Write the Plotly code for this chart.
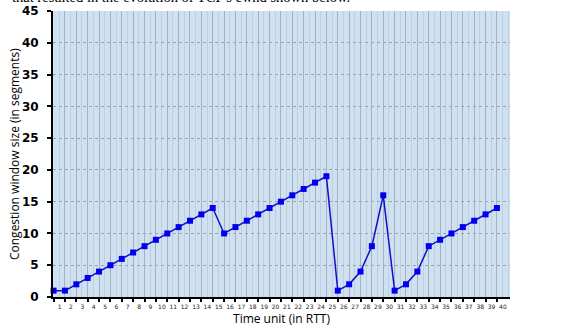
import plotly.graph_objects as go

time_units = list(range(1, 41))
cwnd = [1, 1, 2, 3, 4, 5, 6, 7, 8, 9, 10, 11, 12, 13, 14,
        10, 11, 12, 13, 14, 15, 16, 17, 18, 19,
        1, 2, 4, 8, 16,
        1, 2, 4, 8, 9, 10, 11, 12, 13, 14]
y_ticks = [0, 5, 10, 15, 20, 25, 30, 35, 40, 45]

fig = go.Figure()
fig.add_trace(go.Scatter(
    x=time_units, y=cwnd, mode="lines+markers",
    line=dict(color="#1010c8", width=1.5),
    marker=dict(symbol="square", size=6, color="#0000ee"),
    showlegend=False, cliponaxis=False,
))

fig.update_layout(
    width=571, height=331,
    margin=dict(l=53, r=61, t=11, b=34),
    paper_bgcolor="white",
    plot_bgcolor="#cfe0f1",
    font=dict(family="Open Sans, Liberation Sans, sans-serif", color="black"),
    xaxis=dict(
        range=[0.95, 41.15],
        automargin=False,
        tickmode="array", tickvals=time_units,
        ticktext=[str(t) for t in time_units],
        tickfont=dict(size=6, family="DejaVu Sans", color="#222"),
        ticks="outside", ticklen=3, tickwidth=2, tickcolor="black",
        ticklabelshift=6, ticklabelstandoff=0,
        showline=True, linecolor="black", linewidth=2,
        showgrid=True, gridcolor="#a3b1c0", gridwidth=1,
        minor=dict(dtick=0.5, showgrid=True, gridcolor="#c0cfdf", gridwidth=1, ticks=""),
        zeroline=False,
        title=dict(text="Time unit (in RTT)", font=dict(size=12, family="Open Sans"), standoff=4),
    ),
    yaxis=dict(
        range=[0, 45],
        automargin=False,
        tickmode="array", tickvals=y_ticks,
        tickfont=dict(size=12, family="DejaVu Sans", weight="bold"),
        ticks="outside", ticklen=4, tickwidth=2, tickcolor="black",
        ticklabelstandoff=6,
        showline=True, linecolor="black", linewidth=2,
        showgrid=True, gridcolor="#9aa5b0", griddash="dot", gridwidth=1,
        zeroline=False,
    ),
)

fig.add_annotation(
    text="Congestion window size (in segments)",
    xref="paper", yref="paper", x=-0.0853, y=0.5,
    xanchor="center", yanchor="middle", textangle=-90,
    showarrow=False,
    font=dict(size=12, family="Open Sans", color="black"),
)

fig.add_annotation(
    text="that resulted in the evolution of TCP's cwnd shown below.",
    xref="paper", yref="paper", x=-0.095, y=1.0,
    xanchor="left", yanchor="bottom", yshift=4,
    showarrow=False,
    font=dict(size=14.5, family="Liberation Serif", color="black"),
)

fig.write_html("out.html")
